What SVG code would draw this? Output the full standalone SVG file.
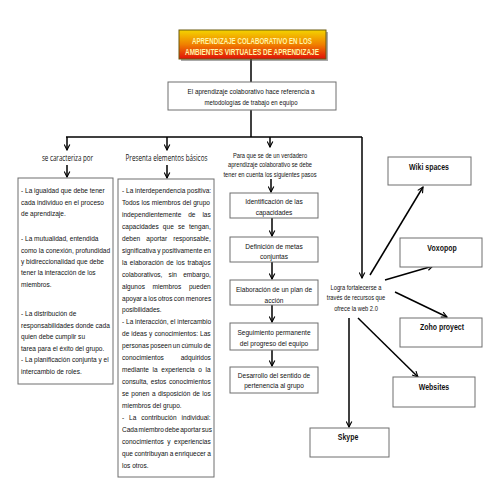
<svg xmlns="http://www.w3.org/2000/svg" width="495" height="495" viewBox="0 0 495 495">
<defs>
<linearGradient id="tg" x1="0" y1="0" x2="0" y2="1">
<stop offset="0" stop-color="#F4D400"/>
<stop offset="0.5" stop-color="#F08000"/>
<stop offset="1" stop-color="#E01008"/>
</linearGradient>
<marker id="ar" viewBox="0 0 10 10" refX="9" refY="5" markerWidth="7" markerHeight="7" markerUnits="userSpaceOnUse" orient="auto">
<path d="M1,1 L9,5 L1,9" fill="none" stroke="#000" stroke-width="1.6"/>
</marker>
<style>
.bx{fill:#fff;stroke:#6e6e6e;stroke-width:1}
.ln{fill:none;stroke:#000;stroke-width:1.5}
.ar{fill:none;stroke:#000;stroke-width:1.5;marker-end:url(#ar)}
.t{font-family:"Liberation Sans",Arial,sans-serif;font-size:8px;fill:#111}
.s{font-family:"Liberation Sans",Arial,sans-serif;font-size:7px;fill:#111}
.c{text-anchor:middle}
.b{font-family:"Liberation Sans",Arial,sans-serif;font-size:8.5px;font-weight:bold;fill:#111;text-anchor:middle}
.lb{font-family:"Open Sans","Noto Sans",sans-serif;font-size:9px;fill:#111;text-anchor:middle}
.ti{font-family:"Liberation Sans",Arial,sans-serif;font-size:8.5px;font-weight:bold;fill:#FFF4A8;text-anchor:middle}
</style>
</defs>
<rect width="495" height="495" fill="#fff"/>

<g id="connectors">
<line class="ln" x1="251" y1="59" x2="251" y2="82"/>
<line class="ln" x1="251" y1="110" x2="251" y2="137"/>
<line class="ln" x1="66" y1="137" x2="362" y2="137"/>
<line class="ar" x1="67" y1="137" x2="67" y2="150"/>
<line class="ar" x1="167" y1="137" x2="167" y2="150"/>
<line class="ar" x1="270" y1="137" x2="270" y2="147"/>
<line class="ar" x1="67" y1="165" x2="67" y2="177"/>
<line class="ar" x1="167" y1="165" x2="167" y2="178"/>
<line class="ar" x1="271" y1="179" x2="271" y2="192"/>
<line class="ar" x1="272" y1="218" x2="272" y2="236"/>
<line class="ar" x1="272" y1="262" x2="272" y2="279"/>
<line class="ar" x1="272" y1="305" x2="272" y2="322"/>
<line class="ar" x1="272" y1="350" x2="272" y2="366"/>
<line class="ar" x1="362" y1="137" x2="362" y2="278"/>
<line class="ar" x1="370" y1="275" x2="423" y2="187"/>
<line class="ar" x1="385" y1="280" x2="433" y2="266"/>
<line class="ar" x1="395" y1="292" x2="447" y2="317"/>
<line class="ar" x1="358" y1="318" x2="418" y2="377"/>
<line class="ar" x1="349" y1="318" x2="349" y2="427"/>
</g>

<g id="title">
<rect x="181" y="32" width="147" height="29" fill="#555" opacity="0.5"/>
<rect x="179" y="30" width="147" height="29" fill="url(#tg)" stroke="#6b5a10" stroke-width="1"/>
<text class="ti" x="252" y="43.5" textLength="120" lengthAdjust="spacingAndGlyphs">APRENDIZAJE COLABORATIVO EN LOS</text>
<text class="ti" x="252" y="55" textLength="134" lengthAdjust="spacingAndGlyphs">AMBIENTES VIRTUALES DE APRENDIZAJE</text>
</g>

<g id="definicion">
<rect class="bx" x="168" y="82" width="168" height="28"/>
<text class="t c" x="251" y="94" textLength="127" lengthAdjust="spacingAndGlyphs">El aprendizaje colaborativo  hace referencia  a</text>
<text class="t c" x="251" y="104.5" textLength="93" lengthAdjust="spacingAndGlyphs">metodologías  de trabajo  en equipo</text>
</g>

<g id="lbl-caracteriza">
<text class="lb" transform="translate(67.5 160.5) scale(0.69 1)" x="0" y="0">se caracteriza  por</text>
</g>
<g id="lbl-presenta">
<text class="lb" transform="translate(166.5 160.5) scale(0.7 1)" x="0" y="0">Presenta elementos  básicos</text>
</g>
<g id="lbl-pasos">
<g transform="translate(270 0) scale(0.82 1)">
<text class="s c" x="0" y="158">Para que se de un verdadero</text>
<text class="s c" x="0" y="167.5">aprendizaje colaborativo se debe</text>
<text class="s c" x="0" y="177">tener en cuenta los siguientes pasos</text>
</g>
</g>

<g id="caracteristicas">
<rect class="bx" x="18" y="178" width="95" height="206"/>
<g transform="translate(21 0) scale(0.82 1)">
<text class="t" x="0" y="193">- La igualdad  que debe tener</text>
<text class="t" x="0" y="205">cada individuo  en el proceso</text>
<text class="t" x="0" y="216">de aprendizaje.</text>
<text class="t" x="0" y="241">- La mutualidad,  entendida</text>
<text class="t" x="0" y="253">como la conexión,  profundidad</text>
<text class="t" x="0" y="264">y bidireccionalidad  que debe</text>
<text class="t" x="0" y="275.5">tener la interacción de los</text>
<text class="t" x="0" y="287">miembros.</text>
<text class="t" x="0" y="316">- La distribución de</text>
<text class="t" x="0" y="328">responsabilidades  donde cada</text>
<text class="t" x="0" y="339.5">quien debe  cumplir su</text>
<text class="t" x="0" y="351">tarea para  el éxito del grupo.</text>
<text class="t" x="0" y="362.5">- La planificación  conjunta y el</text>
<text class="t" x="0" y="374">intercambio  de roles.</text>
</g>
</g>

<g id="elementos">
<rect class="bx" x="118" y="179" width="96" height="298"/>
<g transform="translate(122 0) scale(0.82 1)">
<text class="t" x="0" y="193" word-spacing="0">- La interdependencia positiva:</text>
<text class="t" x="0" y="205" word-spacing="0.2">Todos los miembros del grupo</text>
<text class="t" x="0" y="217" word-spacing="6.2">independientemente de las</text>
<text class="t" x="0" y="229" word-spacing="2.8">capacidades que se tengan,</text>
<text class="t" x="0" y="241" word-spacing="5.3">deben aportar responsable,</text>
<text class="t" x="0" y="253" word-spacing="-0.5">significativa y positivamente en</text>
<text class="t" x="0" y="265" word-spacing="1.1">la elaboración de los trabajos</text>
<text class="t" x="0" y="277" word-spacing="5.4">colaborativos, sin embargo,</text>
<text class="t" x="0" y="289" word-spacing="7.1">algunos miembros pueden</text>
<text class="t" x="0" y="301" word-spacing="-0.6">apoyar a los otros con menores</text>
<text class="t" x="0" y="312.5">posibilidades.</text>
<text class="t" x="0" y="324.5" word-spacing="0">- La interacción, el intercambio</text>
<text class="t" x="0" y="336.5" word-spacing="0.3">de ideas y conocimientos: Las</text>
<text class="t" x="0" y="348.5" word-spacing="-0.7">personas poseen un cúmulo de</text>
<text class="t" x="0" y="360.5" word-spacing="18.3">conocimientos adquiridos</text>
<text class="t" x="0" y="372.5" word-spacing="2.2">mediante la experiencia o la</text>
<text class="t" x="0" y="384.5" word-spacing="0.9">consulta, estos conocimientos</text>
<text class="t" x="0" y="396.5" word-spacing="0.7">se ponen a disposición de los</text>
<text class="t" x="0" y="408.5">miembros del grupo.</text>
<text class="t" x="0" y="420.5" word-spacing="3.8">- La contribución individual:</text>
<text class="t" x="0" y="432.5" word-spacing="-1.2">Cada miembro debe aportar sus</text>
<text class="t" x="0" y="444.5" word-spacing="2">conocimientos y experiencias</text>
<text class="t" x="0" y="456.5" word-spacing="-0.4">que contribuyan a enriquecer a</text>
<text class="t" x="0" y="468">los otros.</text>
</g>
</g>

<g id="paso1">
<rect class="bx" x="230" y="193" width="88" height="25"/>
<g transform="translate(274 0) scale(0.82 1)">
<text class="t c" x="0" y="204.5">Identificación  de las</text>
<text class="t c" x="0" y="215">capacidades</text>
</g>
</g>
<g id="paso2">
<rect class="bx" x="230" y="237" width="88" height="25"/>
<g transform="translate(274 0) scale(0.82 1)">
<text class="t c" x="0" y="249">Definición de metas</text>
<text class="t c" x="0" y="259.5">conjuntas</text>
</g>
</g>
<g id="paso3">
<rect class="bx" x="230" y="280" width="88" height="25"/>
<g transform="translate(274 0) scale(0.82 1)">
<text class="t c" x="0" y="292">Elaboración de un plan de</text>
<text class="t c" x="0" y="303">acción</text>
</g>
</g>
<g id="paso4">
<rect class="bx" x="230" y="323" width="88" height="27"/>
<g transform="translate(274 0) scale(0.82 1)">
<text class="t c" x="0" y="335">Seguimiento permanente</text>
<text class="t c" x="0" y="346">del progreso del equipo</text>
</g>
</g>
<g id="paso5">
<rect class="bx" x="230" y="367" width="88" height="26"/>
<g transform="translate(274 0) scale(0.82 1)">
<text class="t c" x="0" y="378">Desarrollo del sentido de</text>
<text class="t c" x="0" y="388">pertenencia al grupo</text>
</g>
</g>

<g id="web20">
<g transform="translate(356 0) scale(0.82 1)">
<text class="s c" x="0" y="290">Logra fortalecerse a</text>
<text class="s c" x="0" y="300.5">través de recursos que</text>
<text class="s c" x="0" y="311">ofrece la web 2.0</text>
</g>
</g>

<g id="wiki">
<rect class="bx" x="388" y="157" width="83" height="28"/>
<text class="b" transform="translate(429 170) scale(0.82 1)" x="0" y="0">Wiki spaces</text>
</g>
<g id="voxopop">
<rect class="bx" x="400" y="238" width="82" height="29"/>
<text class="b" transform="translate(442 251) scale(0.82 1)" x="0" y="0">Voxopop</text>
</g>
<g id="zoho">
<rect class="bx" x="400" y="318" width="82" height="29"/>
<text class="b" transform="translate(442 330) scale(0.82 1)" x="0" y="0">Zoho proyect</text>
</g>
<g id="websites">
<rect class="bx" x="393" y="377" width="82" height="30"/>
<text class="b" transform="translate(434 390) scale(0.82 1)" x="0" y="0">Websites</text>
</g>
<g id="skype">
<rect class="bx" x="310" y="428" width="79" height="29"/>
<text class="b" transform="translate(348 440) scale(0.82 1)" x="0" y="0">Skype</text>
</g>
</svg>
